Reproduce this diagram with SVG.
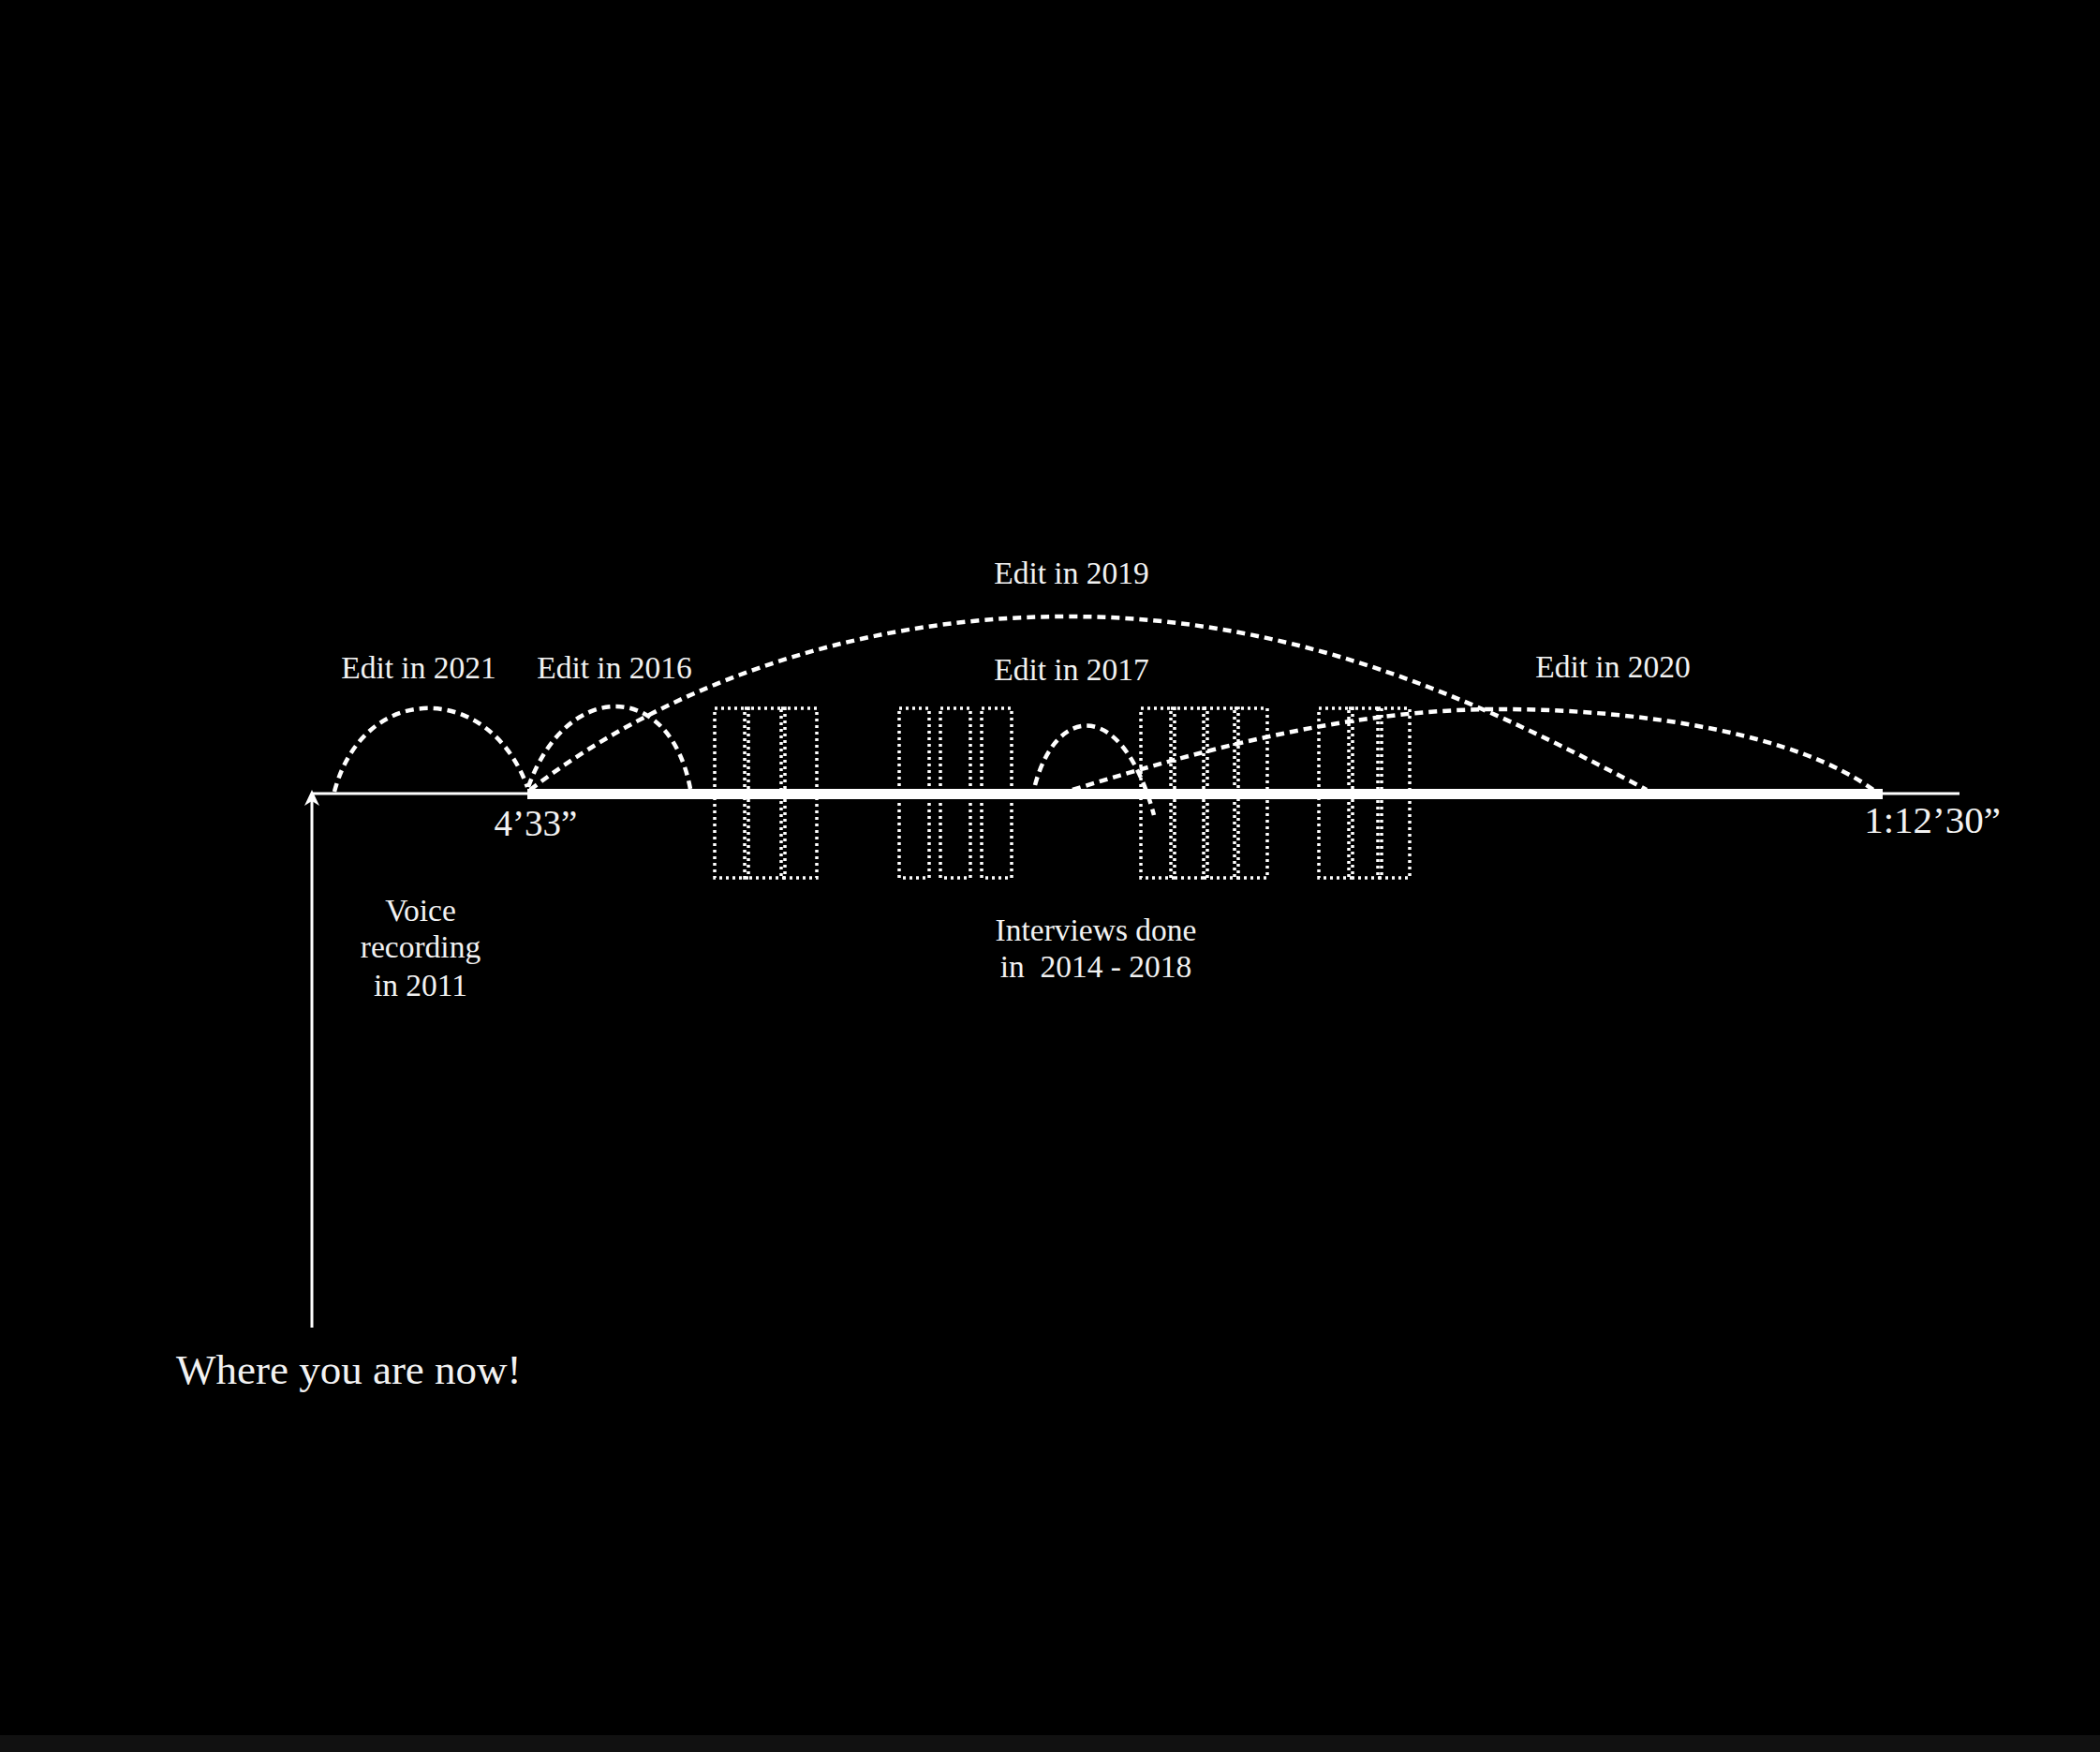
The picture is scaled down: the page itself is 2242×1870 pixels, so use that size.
<svg xmlns="http://www.w3.org/2000/svg" width="2242" height="1870" viewBox="0 0 2242 1870">
<style>
.t{font-family:"Liberation Serif","Times New Roman",serif;fill:#f2f2f2;white-space:pre}
.lbl{font-size:33.5px;text-anchor:middle}
.arc{fill:none;stroke:#fff;stroke-width:4.5;stroke-dasharray:9 6}
.box{fill:none;stroke:#fff;stroke-width:3.5;stroke-dasharray:3 4}
</style>
<rect x="0" y="0" width="2242" height="1870" fill="#000"/>
<rect x="0" y="1852" width="2242" height="18" fill="#111"/>

<g id="timeline">
<line x1="333" y1="847" x2="2092" y2="847" stroke="#fff" stroke-width="3"/>
<rect x="563" y="842" width="1447" height="11" fill="#fff"/>
</g>

<g id="interviews">
<rect class="box" x="763" y="756" width="36" height="181"/>
<rect class="box" x="795" y="756" width="43" height="181"/>
<rect class="box" x="834" y="756" width="38" height="181"/>
<rect class="box" x="960" y="756" width="32" height="181"/>
<rect class="box" x="1004" y="756" width="32" height="181"/>
<rect class="box" x="1048" y="756" width="32" height="181"/>
<rect class="box" x="1218" y="756" width="36" height="181"/>
<rect class="box" x="1250" y="756" width="39" height="181"/>
<rect class="box" x="1285" y="756" width="37" height="181"/>
<rect class="box" x="1318" y="756" width="35" height="181"/>
<rect class="box" x="1408" y="756" width="36" height="181"/>
<rect class="box" x="1440" y="756" width="35" height="181"/>
<rect class="box" x="1471" y="756" width="34" height="181"/>
<text class="t lbl" x="1170" y="1004">Interviews done</text>
<text class="t lbl" x="1170" y="1043">in  2014 - 2018</text>
</g>

<g id="connectors">
<path class="arc" d="M357,845 C388,727 522,727 563,840"/>
<path class="arc" d="M564,840 C605,725 715,725 737,842"/>
<path class="arc" d="M566,843 C700,740 900,658 1140,658 C1400,658 1600,760 1758,843"/>
<path class="arc" d="M1105,838 C1128,752 1198,745 1232,870"/>
<path class="arc" d="M1145,843 C1300,795 1450,757 1600,757 C1760,757 1920,785 2000,843"/>
</g>

<g id="now-arrow">
<line x1="333" y1="855" x2="333" y2="1417" stroke="#fff" stroke-width="3"/>
<polygon points="333,843 341,860 333,855 325,860" fill="#fff"/>
</g>

<g id="labels">
<text class="t lbl" x="447" y="724">Edit in 2021</text>
<text class="t lbl" x="656" y="724">Edit in 2016</text>
<text class="t lbl" x="1144" y="623">Edit in 2019</text>
<text class="t lbl" x="1144" y="726">Edit in 2017</text>
<text class="t lbl" x="1722" y="723">Edit in 2020</text>
<text class="t" x="572" y="892" font-size="39" text-anchor="middle">4’33”</text>
<text class="t" x="2063" y="889" font-size="41" text-anchor="middle">1:12’30”</text>
</g>

<g id="voice">
<text class="t lbl" x="449" y="983">Voice</text>
<text class="t lbl" x="449" y="1022">recording</text>
<text class="t lbl" x="449" y="1063">in 2011</text>
</g>

<g id="where">
<text class="t" x="188" y="1477" font-size="45">Where you are now!</text>
</g>
</svg>
